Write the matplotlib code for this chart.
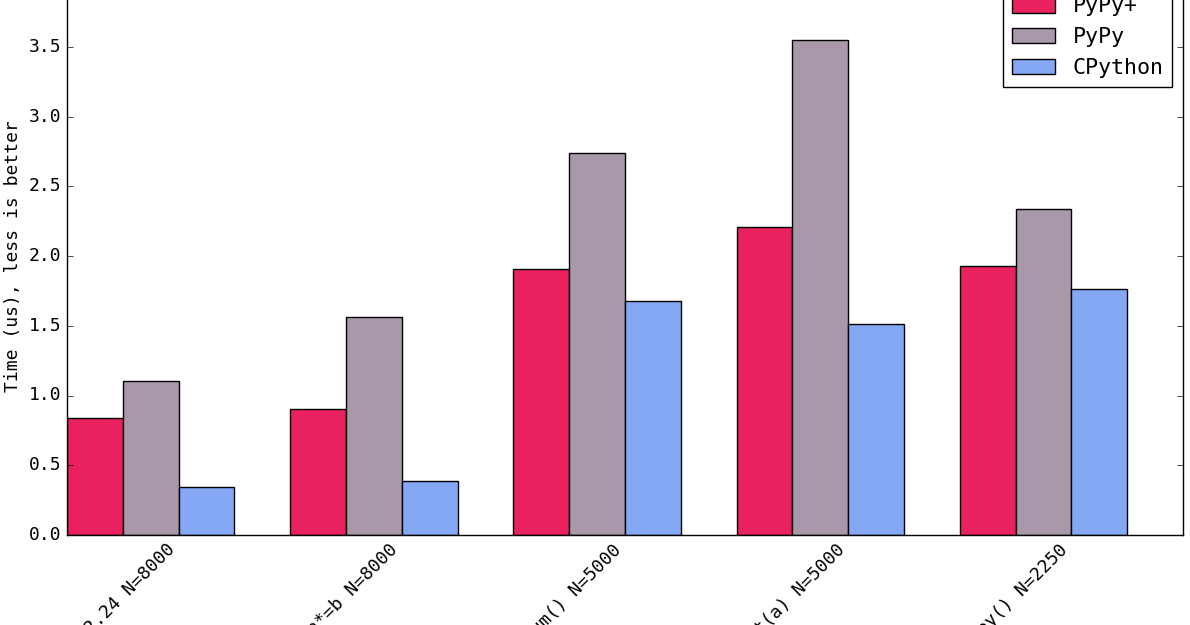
import numpy as np
import matplotlib
matplotlib.use("Agg")
import matplotlib.pyplot as plt

plt.style.use('classic')
plt.rcParams['font.family'] = ['DejaVu Sans Mono']
plt.rcParams['font.size'] = 13

# Benchmark data (time in microseconds)
labels = ["a+2.24 N=8000", "a*=b N=8000", "a.sum() N=5000",
          "sqrt(a) N=5000", "a.copy() N=2250"]
pypy_plus = [0.84, 0.90, 1.91, 2.21, 1.93]
pypy = [1.105, 1.565, 2.74, 3.55, 2.34]
cpython = [0.345, 0.39, 1.68, 1.515, 1.76]

ind = np.arange(len(labels))
width = 0.25

fig = plt.figure(figsize=(11.9, 6.25), dpi=100)
# axes run past the top edge, as in the cropped original
ax = fig.add_axes([67 / 1190, 90 / 625, 1116 / 1190, 558 / 625])

ax.bar(ind, pypy_plus, width, color='#e9225f', align='edge', label='PyPy+')
ax.bar(ind + width, pypy, width, color='#a998aa', align='edge', label='PyPy')
ax.bar(ind + 2 * width, cpython, width, color='#84a8f4', align='edge', label='CPython')

ax.set_xlim(0, 5)
ax.set_ylim(0, 4)
ax.set_yticks(np.arange(0, 4.01, 0.5))
ax.set_xticks(ind + 2 * width)
ax.set_xticklabels(labels, rotation=45, ha='right')
ax.set_ylabel("Time (us), less is better")
ax.legend(loc='upper right')

plt.savefig("out.png", dpi=100)
